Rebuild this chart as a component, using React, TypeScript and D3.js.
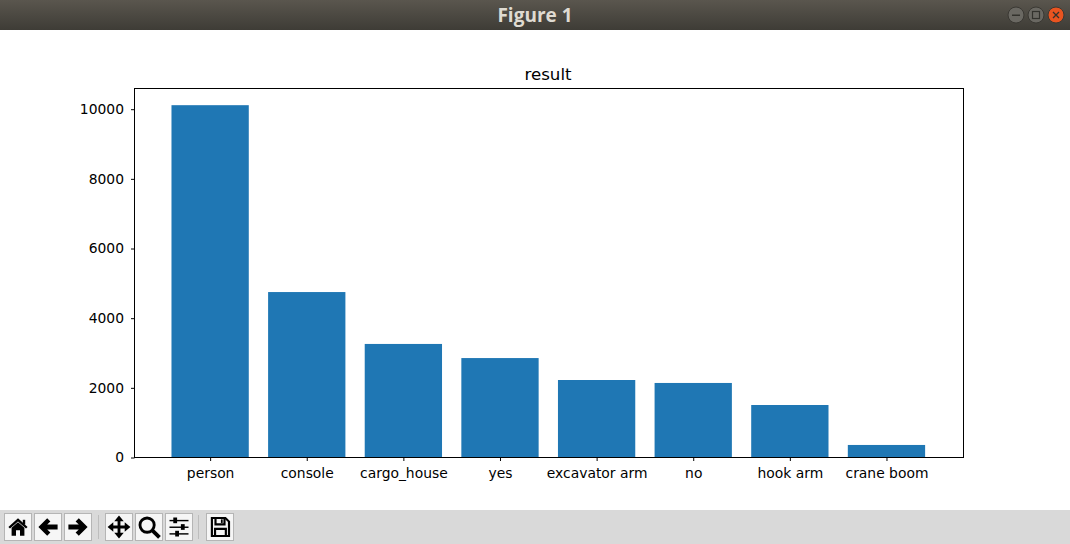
import React, { useEffect, useRef } from 'react';
import * as d3 from 'd3';

const categories = ['person', 'console', 'cargo_house', 'yes', 'excavator arm', 'no', 'hook arm', 'crane boom'];
const counts = [10115, 4750, 3260, 2855, 2225, 2140, 1507, 360];
const yTicks = [0, 2000, 4000, 6000, 8000, 10000];
const chartTitle = 'result';
const windowTitle = 'Figure 1';

const W = 1070;
const H = 544;
const font = '"DejaVu Sans", sans-serif';
const margin = { top: 88.5, right: 106.5, bottom: 86.5, left: 134.5 };
const barColor = '#1f77b4';

// toolbar buttons: name, x of left edge, icon scale
const buttons: [string, number, number][] = [
  ['home', 4, 0.8],
  ['back', 34, 0.8],
  ['forward', 64, 0.8],
  ['move', 105, 0.95],
  ['zoom', 135, 0.95],
  ['config', 165, 0.95],
  ['save', 206, 0.9],
];
const separators = [98, 198];

const Icon: React.FC<{ name: string }> = ({ name }) => {
  const k = '#000';
  switch (name) {
    case 'home':
      return (
        <g fill={k}>
          <path d="M14 3 L26 14 L24 16 L14 7 L4 16 L2 14 Z" />
          <path d="M6 15 L14 8 L22 15 L22 25 L16.5 25 L16.5 18 L11.5 18 L11.5 25 L6 25 Z" />
          <rect x="20" y="5" width="3" height="6" />
        </g>
      );
    case 'back':
      return <path fill={k} d="M2 14 L13 3 L17 7 L13 11 L26 11 L26 17 L13 17 L17 21 L13 25 Z" />;
    case 'forward':
      return <path fill={k} d="M26 14 L15 3 L11 7 L15 11 L2 11 L2 17 L15 17 L11 21 L15 25 Z" />;
    case 'move':
      return (
        <path
          fill={k}
          d="M14 2 L19 8 L15.5 8 L15.5 12.5 L20 12.5 L20 9 L26 14 L20 19 L20 15.5 L15.5 15.5 L15.5 20 L19 20 L14 26 L9 20 L12.5 20 L12.5 15.5 L8 15.5 L8 19 L2 14 L8 9 L8 12.5 L12.5 12.5 L12.5 8 L9 8 Z"
        />
      );
    case 'zoom':
      return (
        <g fill="none" stroke={k}>
          <circle cx="12" cy="12" r="7.5" strokeWidth="3" />
          <path d="M17.5 17.5 L25 25" strokeWidth="4" />
        </g>
      );
    case 'config':
      return (
        <g fill={k}>
          <rect x="4" y="6.5" width="20" height="1.5" />
          <rect x="4" y="13.5" width="20" height="1.5" />
          <rect x="4" y="20.5" width="20" height="1.5" />
          <rect x="8" y="4" width="4" height="6" />
          <rect x="16" y="11" width="4" height="6" />
          <rect x="10" y="18" width="4" height="6" />
        </g>
      );
    default:
      return (
        <g fill="none" stroke={k} strokeWidth="2.4">
          <path d="M5 4 L20 4 L24 8 L24 24 L5 24 Z" />
          <path d="M9 4 L9 11 L19 11 L19 4" />
          <path d="M8.5 24 L8.5 16 L20.5 16 L20.5 24" />
          <rect x="15" y="5.5" width="2" height="4" fill={k} stroke="none" />
        </g>
      );
  }
};

const App: React.FC = () => {
  const plotRef = useRef<SVGGElement>(null);
  const innerW = W - margin.left - margin.right;
  const innerH = H - margin.top - margin.bottom;

  useEffect(() => {
    const g = d3.select(plotRef.current);
    g.selectAll('*').remove();

    const x = d3.scaleLinear().domain([-0.79, categories.length - 1 + 0.79]).range([-0.7, innerW - 0.7]);
    const y = d3.scaleLinear().domain([0, 10594]).range([innerH, 0]);
    const barW = x(0.8) - x(0);

    g.selectAll('rect.bar')
      .data(counts)
      .join('rect')
      .attr('class', 'bar')
      .attr('x', (_, i) => x(i) - barW / 2)
      .attr('y', (d) => y(d))
      .attr('width', barW)
      .attr('height', (d) => innerH - y(d))
      .attr('fill', barColor);

    const xAxis = d3
      .axisBottom(x)
      .tickValues(categories.map((_, i) => i))
      .tickFormat((_, i) => categories[i])
      .tickSize(3.5)
      .tickPadding(7);
    const yAxis = d3.axisLeft(y).tickValues(yTicks).tickFormat(d3.format('d')).tickSize(3.5).tickPadding(7);

    const xg = g.append('g').attr('transform', `translate(0,${innerH})`).call(xAxis as any);
    const yg = g.append('g').call(yAxis as any);
    [xg, yg].forEach((a) => {
      a.select('.domain').remove();
      a.selectAll('line').attr('stroke', '#000').attr('stroke-width', 1);
      a.selectAll('text').attr('fill', '#000').style('font-family', font).style('font-size', '13.89px');
    });

    g.append('rect')
      .attr('width', innerW)
      .attr('height', innerH)
      .attr('fill', 'none')
      .attr('stroke', '#000')
      .attr('stroke-width', 1);

    g.append('text')
      .attr('x', innerW / 2 - 1)
      .attr('y', -9)
      .attr('text-anchor', 'middle')
      .style('font-family', font)
      .style('font-size', '16.67px')
      .text(chartTitle);
  }, []);

  return (
    <svg width={W} height={H} style={{ position: 'absolute', left: 0, top: 0, background: '#fff' }}>
      <defs>
        <linearGradient id="titlebar" x1="0" y1="0" x2="0" y2="1">
          <stop offset="0" stopColor="#5a564e" />
          <stop offset="1" stopColor="#3e3c36" />
        </linearGradient>
      </defs>

      {/* window frame */}
      <rect width={W} height="30" fill="url(#titlebar)" />
      <text
        x={W / 2}
        y="22"
        textAnchor="middle"
        fill="#dfdbd2"
        style={{ fontFamily: '"Open Sans", Ubuntu, sans-serif', fontSize: 19, fontWeight: 700 }}
      >
        {windowTitle}
      </text>
      <circle cx="1016" cy="15" r="8" fill="#6a6862" stroke="#3a3833" />
      <rect x="1012" y="14.5" width="8" height="1.5" fill="#33322d" />
      <circle cx="1036" cy="15" r="8" fill="#6a6862" stroke="#3a3833" />
      <rect x="1032.5" y="11.5" width="7" height="7" fill="none" stroke="#33322d" strokeWidth="1.2" />
      <circle cx="1056" cy="15" r="8" fill="#e95420" stroke="#3a3833" />
      <path d="M1053 12 L1059 18 M1059 12 L1053 18" stroke="#33322d" strokeWidth="1.3" />

      <g ref={plotRef} transform={`translate(${margin.left},${margin.top})`} />

      {/* toolbar */}
      <rect y="510" width={W} height="34" fill="#d9d9d9" />
      {separators.map((s) => (
        <rect key={s} x={s} y="515" width="1" height="24" fill="#bdbdbd" />
      ))}
      {buttons.map(([name, bx, s]) => (
        <g key={name} transform={`translate(${bx},513)`}>
          <rect x="0.5" y="0.5" width="27" height="27" fill="#f6f6f6" stroke="#b5b5b5" />
          <g transform={`translate(14,14) scale(${s}) translate(-14,-14)`}>
            <Icon name={name} />
          </g>
        </g>
      ))}
    </svg>
  );
};

export default App;
